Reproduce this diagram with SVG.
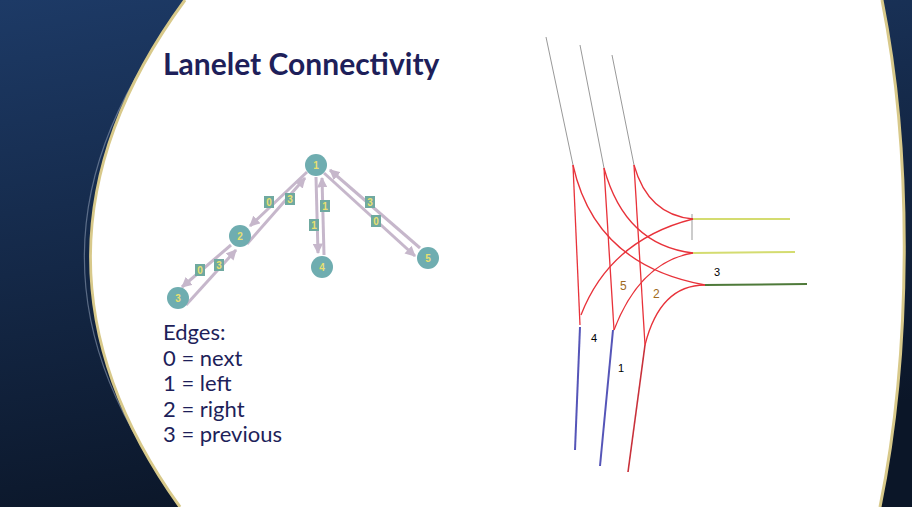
<svg xmlns="http://www.w3.org/2000/svg" width="912" height="507" viewBox="0 0 912 507">
<defs>
<linearGradient id="bg" x1="0" y1="0" x2="0.3" y2="1"><stop offset="0" stop-color="#1d3a66"/><stop offset="1" stop-color="#0b1628"/></linearGradient>
<marker id="ga" viewBox="0 0 10 10" refX="9" refY="5" markerWidth="3.5" markerHeight="3.5" orient="auto"><path d="M0,0L10,5L0,10z" fill="#c6b7cb"/></marker>
</defs>
<style>
.e{stroke:#c6b7cb;stroke-width:3;fill:none;marker-end:url(#ga)}
.n{fill:#6fadb0}
.nt{font:bold 10px "Liberation Sans",sans-serif;fill:#e8e070;text-anchor:middle}
.lb{fill:#6fa9a0}
.lt{font:bold 10px "Liberation Sans",sans-serif;fill:#e8e070;text-anchor:middle}
.r{stroke:#e8323a;stroke-width:1.3;fill:none}
.t{font-family:"Lato","Liberation Sans",sans-serif;fill:#1e1f5a}
.rim{fill:none;stroke:#d8c98a;stroke-width:3}
</style>
<rect width="912" height="507" fill="url(#bg)"/>
<path d="M190,0C50,170 50,340 185,507" fill="none" stroke="#8a9ab0" stroke-width="1.2" opacity="0.6"/>
<path d="M185,0C60,170 60,340 180,507L880,507C912,350 912,150 882,0Z" fill="#fff"/>
<path class="rim" d="M185,0C60,170 60,340 180,507"/>
<path class="rim" d="M880,507C912,350 912,150 882,0"/>
<text class="t" x="163" y="75" font-size="30" font-weight="bold">Lanelet Connectivity</text>
<g id="connectors">
<path class="e" d="M307,172L250,226"/>
<path class="e" d="M247,244L305,178"/>
<path class="e" d="M231,245L182,287"/>
<path class="e" d="M186,305L236,250"/>
<path class="e" d="M316,177L318,253"/>
<path class="e" d="M324,255L322,178"/>
<path class="e" d="M324,173L415,256"/>
<path class="e" d="M420,248L330,170"/>
</g>
<g id="edge-labels">
<rect class="lb" x="264" y="196" width="10" height="12"/><text class="lt" x="269" y="206">0</text>
<rect class="lb" x="285" y="193" width="10" height="12"/><text class="lt" x="290" y="203">3</text>
<rect class="lb" x="195" y="264" width="10" height="12"/><text class="lt" x="200" y="274">0</text>
<rect class="lb" x="214" y="259" width="10" height="12"/><text class="lt" x="219" y="269">3</text>
<rect class="lb" x="309" y="219" width="10" height="12"/><text class="lt" x="314" y="229">1</text>
<rect class="lb" x="320" y="200" width="10" height="12"/><text class="lt" x="325" y="210">1</text>
<rect class="lb" x="365" y="196" width="10" height="12"/><text class="lt" x="370" y="206">3</text>
<rect class="lb" x="371" y="215" width="10" height="12"/><text class="lt" x="376" y="225">0</text>
</g>
<g id="n1"><circle class="n" cx="316" cy="165" r="11"/><text class="nt" x="316" y="169">1</text></g>
<g id="n2"><circle class="n" cx="240" cy="236" r="11"/><text class="nt" x="240" y="240">2</text></g>
<g id="n3"><circle class="n" cx="178" cy="298" r="11"/><text class="nt" x="178" y="302">3</text></g>
<g id="n4"><circle class="n" cx="322" cy="267" r="11"/><text class="nt" x="322" y="271">4</text></g>
<g id="n5"><circle class="n" cx="428" cy="258" r="11"/><text class="nt" x="428" y="262">5</text></g>
<g id="legend" class="t" font-size="22">
<text x="163" y="340">Edges:</text>
<text x="163" y="366">0 = next</text>
<text x="163" y="391">1 = left</text>
<text x="163" y="417">2 = right</text>
<text x="163" y="442">3 = previous</text>
</g>
<g id="road">
<g stroke="#999" stroke-width="1" fill="none">
<path d="M546,37L573,165"/><path d="M580,45L604,168"/><path d="M612,55L634,165"/><path d="M692,214L692,240"/>
</g>
<g stroke="#d4dc70" stroke-width="2"><path d="M693,219L790,219"/><path d="M693,253L795,252"/></g>
<path d="M705,285L807,284" stroke="#4f7a3a" stroke-width="2"/>
<g stroke="#5555b8" stroke-width="2"><path d="M580,327L575,450"/><path d="M613,330L600,466"/></g>
<path d="M645,345L628,472" stroke="#c8303a" stroke-width="1.6"/>
<g class="r">
<path d="M573,165L580,325"/>
<path d="M604,168L614,330"/>
<path d="M634,165L645,345"/>
<path d="M634,165Q648,215 693,219"/>
<path d="M604,168Q625,245 693,253"/>
<path d="M573,165Q595,265 705,285"/>
<path d="M693,219Q610,240 581,315"/>
<path d="M693,253Q640,262 614,330"/>
<path d="M705,285Q660,285 645,345"/>
</g>
<g font-family="Liberation Sans,sans-serif" font-size="11">
<text x="591" y="342">4</text><text x="618" y="372">1</text>
<text x="620" y="290" fill="#a06a20" font-size="12">5</text><text x="653" y="298" fill="#a06a20" font-size="12">2</text>
<text x="714" y="276">3</text>
</g>
</g>
</svg>
